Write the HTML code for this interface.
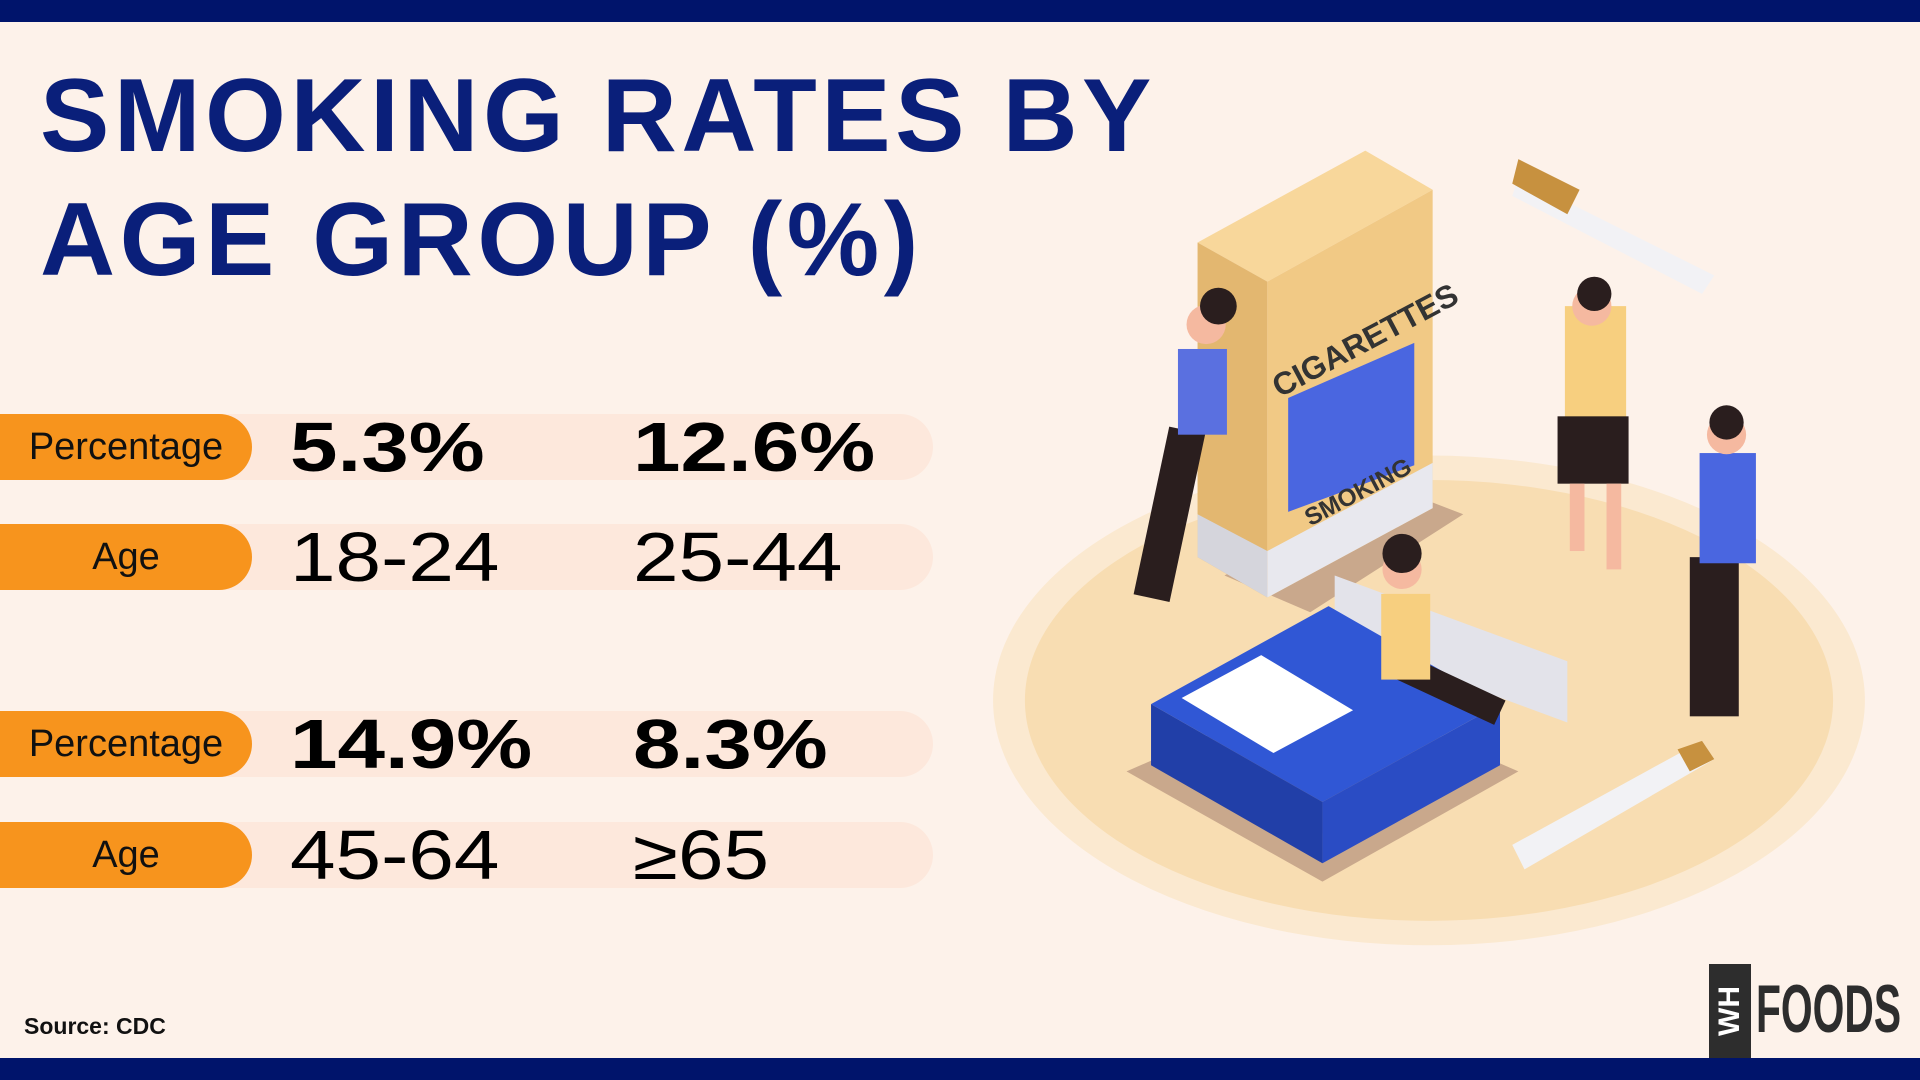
<!DOCTYPE html>
<html><head><meta charset="utf-8"><style>
body{margin:0;width:1920px;height:1080px;background:#fdf2ea;position:relative;overflow:hidden;font-family:"Liberation Sans",sans-serif}
.bar{position:absolute;left:0;width:1920px;background:#00146b}
h1{position:absolute;left:40px;top:54px;margin:0;font-size:104px;line-height:124px;font-weight:900;color:#0a1f7a;letter-spacing:4.5px}
.row{position:absolute;left:0;width:933px;height:66px;background:#fde8dc;border-radius:0 33px 33px 0}
.lab{position:absolute;left:0;top:0;width:252px;height:66px;background:#f7941d;border-radius:0 33px 33px 0;text-align:center;line-height:66px;font-size:38px;color:#111}
.v{position:absolute;top:0;line-height:66px;font-size:70px;color:#000;transform:scaleX(1.17);transform-origin:0 0}
.b{font-weight:bold;transform:scaleX(1.22)}
</style></head><body>
<div class="bar" style="top:0;height:22px"></div>
<div class="bar" style="top:1058px;height:22px"></div>
<h1>SMOKING RATES BY<br>AGE GROUP (%)</h1>
<div class="row" style="top:414px"><div class="lab">Percentage</div><div class="v b" style="left:290px">5.3%</div><div class="v b" style="left:633px">12.6%</div></div>
<div class="row" style="top:524px"><div class="lab">Age</div><div class="v" style="left:290px">18-24</div><div class="v" style="left:633px">25-44</div></div>
<div class="row" style="top:711px"><div class="lab">Percentage</div><div class="v b" style="left:290px">14.9%</div><div class="v b" style="left:633px">8.3%</div></div>
<div class="row" style="top:822px"><div class="lab">Age</div><div class="v" style="left:290px">45-64</div><div class="v" style="left:633px">≥65</div></div>
<div style="position:absolute;left:24px;top:1013px;font-size:23px;font-weight:bold;color:#111">Source: CDC</div>
<div style="position:absolute;left:1709px;top:964px;width:42px;height:94px;background:#2d2d2d"></div>
<div style="position:absolute;left:1683px;top:990px;width:94px;height:42px;line-height:42px;text-align:center;color:#fff;font-weight:bold;font-size:30px;transform:rotate(-90deg)">WH</div>
<div style="position:absolute;left:1756px;top:974px;font-size:68px;font-weight:bold;color:#2d2d2d;transform:scaleX(0.6);transform-origin:0 0;line-height:70px">FOODS</div>
<svg style="position:absolute;left:0;top:0" width="1920" height="1080" viewBox="0 0 1568 882">
<ellipse cx="1167" cy="572" rx="356" ry="200" fill="#fbe9d0"/>
<ellipse cx="1167" cy="572" rx="330" ry="180" fill="#f8ddb2"/>
<polygon points="1000,470 1070,500 1195,420 1130,395" fill="#c9a88c"/>
<polygon points="978,198 1115,123 1170,155 1035,230" fill="#f8d79b"/>
<polygon points="978,198 1035,230 1035,488 978,455" fill="#e3b770"/>
<polygon points="1035,230 1170,155 1170,415 1035,488" fill="#f1c985"/>
<polygon points="978,420 1035,450 1035,488 978,455" fill="#d5d5dc"/>
<polygon points="1035,450 1170,378 1170,415 1035,488" fill="#e8e8ee"/>
<polygon points="1052,325 1155,280 1155,380 1052,418" fill="#4a66e0"/>
<text x="1045" y="325" font-size="26" font-weight="bold" fill="#333" transform="rotate(-28 1045 325)" font-family="Liberation Sans Narrow,Liberation Sans,sans-serif">CIGARETTES</text>
<text x="1070" y="430" font-size="20" font-weight="bold" fill="#333" transform="rotate(-28 1070 430)">SMOKING</text>
<polygon points="920,630 1080,720 1240,630 1080,560" fill="#c9a88c"/>
<polygon points="1090,470 1280,540 1280,590 1090,520" fill="#e3e3ea"/>
<polygon points="940,575 1085,495 1225,575 1080,655" fill="#3057d5"/>
<polygon points="940,575 1080,655 1080,705 940,625" fill="#213fa8"/>
<polygon points="1080,655 1225,575 1225,625 1080,705" fill="#2a4cc4"/>
<polygon points="965,570 1030,535 1105,580 1040,615" fill="#fff"/>
<polygon points="1235,690 1390,605 1400,620 1245,710" fill="#f2f2f5"/>
<polygon points="1370,612 1390,605 1400,620 1380,630" fill="#c7913f"/>
<polygon points="1240,145 1400,225 1390,240 1235,160" fill="#f2f2f5"/>
<polygon points="1240,130 1290,155 1280,175 1235,150" fill="#c7913f"/>
<g fill="#2a1e1e"><rect x="940" y="350" width="30" height="140" transform="rotate(12 955 420)"/><rect x="1380" y="455" width="40" height="130"/><rect x="1130" y="550" width="100" height="22" transform="rotate(25 1180 560)"/></g>
<rect x="962" y="285" width="40" height="70" fill="#5a70e0"/>
<rect x="1388" y="370" width="46" height="90" fill="#4a66e0"/>
<rect x="1278" y="250" width="50" height="95" fill="#f7cf7f"/>
<rect x="1272" y="340" width="58" height="55" fill="#2a1e1e"/>
<rect x="1128" y="485" width="40" height="70" fill="#f7cf7f"/>
<g fill="#f5b9a0"><circle cx="985" cy="265" r="16"/><circle cx="1300" cy="250" r="16"/><circle cx="1410" cy="355" r="16"/><circle cx="1145" cy="465" r="16"/><rect x="1282" y="395" width="12" height="55"/><rect x="1312" y="395" width="12" height="70"/></g>
<g fill="#2a1e1e"><circle cx="995" cy="250" r="15"/><circle cx="1302" cy="240" r="14"/><circle cx="1410" cy="345" r="14"/><circle cx="1145" cy="452" r="16"/></g>
</svg>
</body></html>
